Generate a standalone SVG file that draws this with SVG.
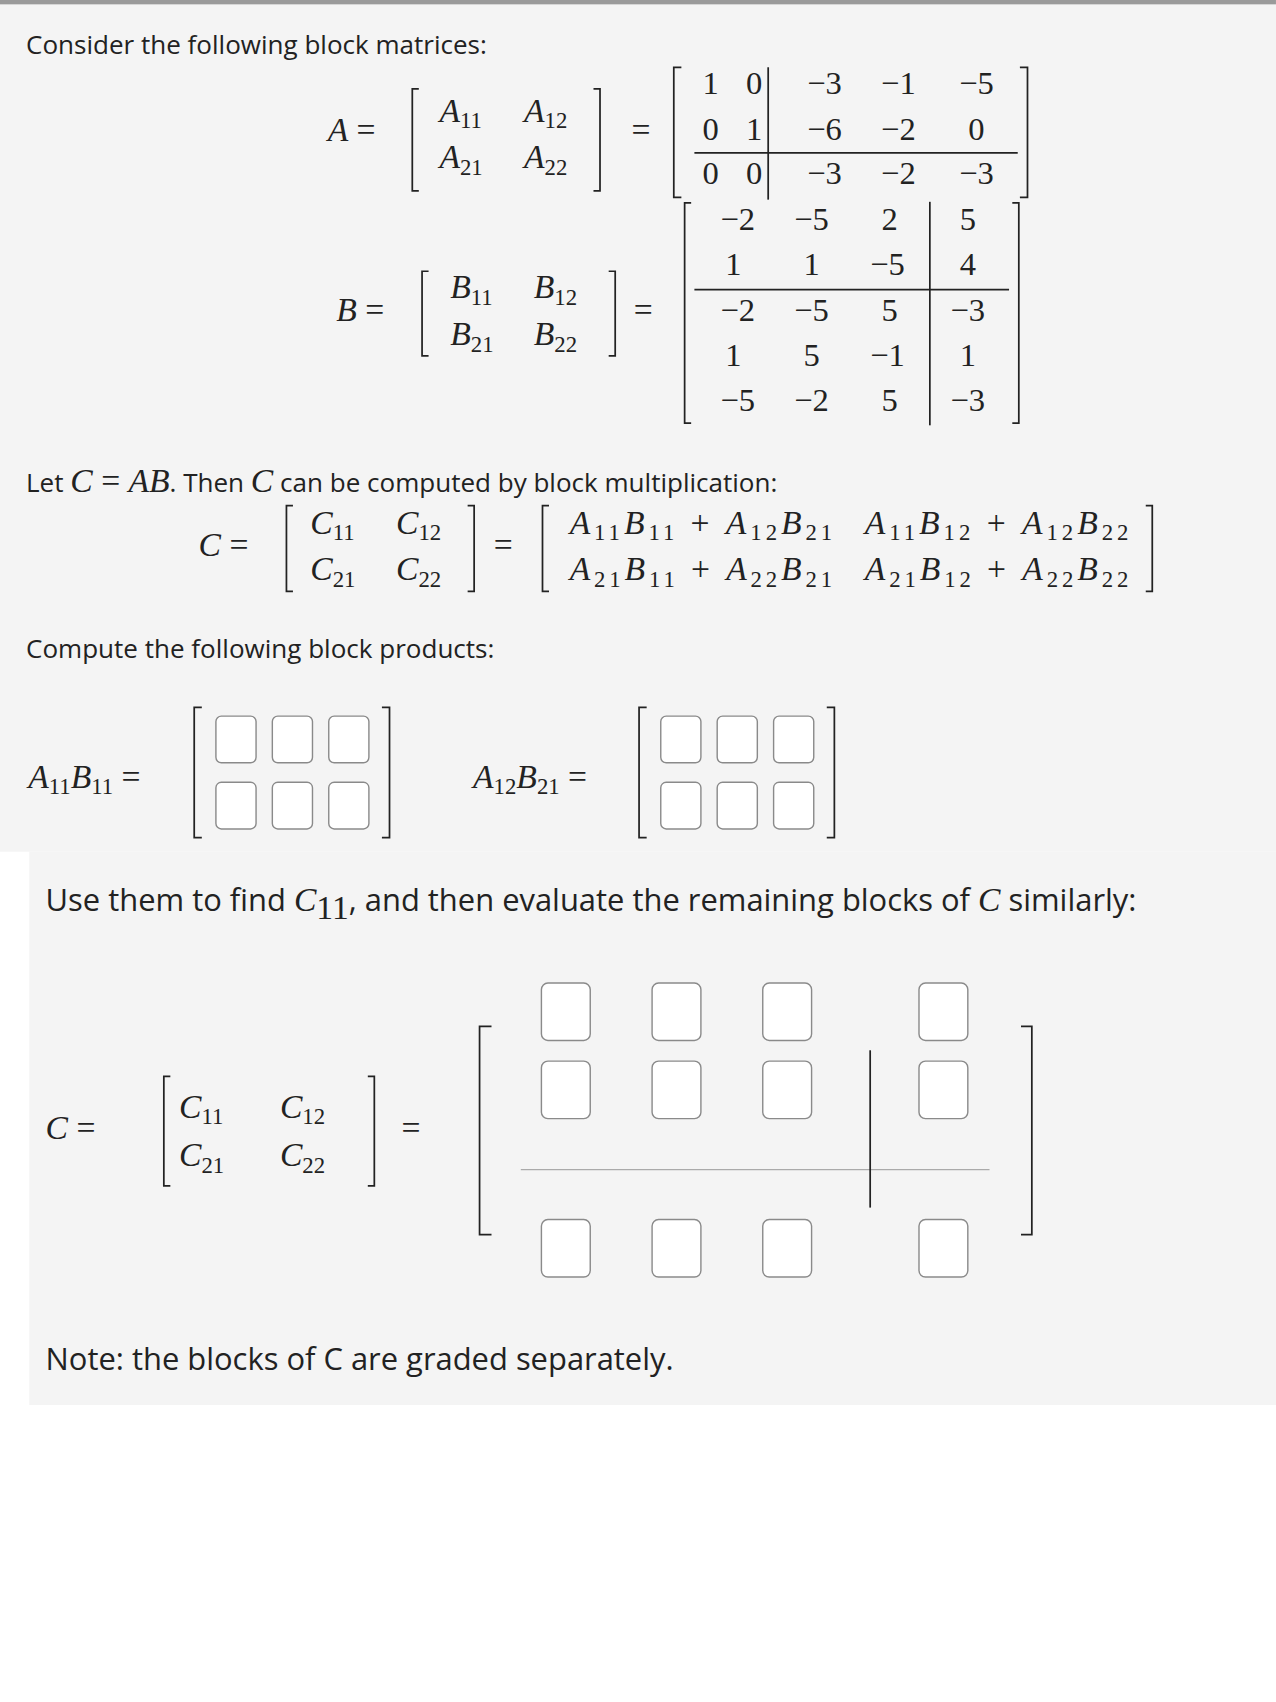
<svg xmlns="http://www.w3.org/2000/svg" width="1276" height="1702" viewBox="0 0 1276 1702">
<style>
.t{font-family:"Open Sans","Noto Sans",sans-serif;font-size:24px;fill:#222}
.t2{font-family:"Open Sans","Noto Sans",sans-serif;font-size:28.5px;fill:#222}
.m{font-family:"Liberation Serif","DejaVu Serif",serif;font-size:31px;fill:#222}
.i{font-style:italic}
.n{font-family:"Liberation Serif","DejaVu Serif",serif;font-size:30px;fill:#222;text-anchor:middle}
.s{font-size:21px;font-style:normal}
.br{fill:none;stroke:#222;stroke-width:1.6}
.ln{stroke:#222;stroke-width:1.6}
.bx{fill:#fff;stroke:#8a8a8a;stroke-width:1.3}
</style>
<rect width="1276" height="1702" fill="#fff"/>
<g transform="scale(1.085)">
<rect x="0" y="0" width="1176" height="785" fill="#f4f4f4"/>
<rect x="27" y="785" width="1149" height="510" fill="#f4f4f4"/>
<rect x="0" y="0" width="1176" height="4" fill="#9a9a9a"/>
<g id="intro"><text class="t" x="24" y="50">Consider the following block matrices:</text></g>
<g id="matA">
<text class="m" x="302" y="130"><tspan class="i">A</tspan> =</text>
<path class="br" d="M386,82 H380 V176 H386 M547,82 H553 V176 H547"/>
<text class="m i" x="405" y="112">A<tspan class="s" dy="6">11</tspan></text>
<text class="m i" x="483" y="112">A<tspan class="s" dy="6">12</tspan></text>
<text class="m i" x="405" y="155">A<tspan class="s" dy="6">21</tspan></text>
<text class="m i" x="483" y="155">A<tspan class="s" dy="6">22</tspan></text>
<text class="m" x="582" y="130">=</text>
<path class="br" d="M628,62 H621 V182 H628 M940,62 H947 V182 H940"/>
<line class="ln" x1="708" y1="62" x2="708" y2="184"/>
<line class="ln" x1="640" y1="141" x2="938" y2="141"/>
<text class="n" y="87"><tspan x="655">1</tspan><tspan x="695">0</tspan><tspan x="760">−3</tspan><tspan x="828">−1</tspan><tspan x="900">−5</tspan></text>
<text class="n" y="129"><tspan x="655">0</tspan><tspan x="695">1</tspan><tspan x="760">−6</tspan><tspan x="828">−2</tspan><tspan x="900">0</tspan></text>
<text class="n" y="170"><tspan x="655">0</tspan><tspan x="695">0</tspan><tspan x="760">−3</tspan><tspan x="828">−2</tspan><tspan x="900">−3</tspan></text>
</g>
<g id="matB">
<text class="m" x="310" y="296"><tspan class="i">B</tspan> =</text>
<path class="br" d="M395,250 H389 V328 H395 M561,250 H567 V328 H561"/>
<text class="m i" x="415" y="275">B<tspan class="s" dy="6">11</tspan></text>
<text class="m i" x="492" y="275">B<tspan class="s" dy="6">12</tspan></text>
<text class="m i" x="415" y="318">B<tspan class="s" dy="6">21</tspan></text>
<text class="m i" x="492" y="318">B<tspan class="s" dy="6">22</tspan></text>
<text class="m" x="584" y="296">=</text>
<path class="br" d="M637,187 H631 V390 H637 M933,187 H939 V390 H933"/>
<line class="ln" x1="857" y1="186" x2="857" y2="392"/>
<line class="ln" x1="640" y1="267" x2="930" y2="267"/>
<text class="n" y="212"><tspan x="680">−2</tspan><tspan x="748">−5</tspan><tspan x="820">2</tspan><tspan x="892">5</tspan></text>
<text class="n" y="253"><tspan x="676">1</tspan><tspan x="748">1</tspan><tspan x="818">−5</tspan><tspan x="892">4</tspan></text>
<text class="n" y="296"><tspan x="680">−2</tspan><tspan x="748">−5</tspan><tspan x="820">5</tspan><tspan x="892">−3</tspan></text>
<text class="n" y="337"><tspan x="676">1</tspan><tspan x="748">5</tspan><tspan x="818">−1</tspan><tspan x="892">1</tspan></text>
<text class="n" y="379"><tspan x="680">−5</tspan><tspan x="748">−2</tspan><tspan x="820">5</tspan><tspan x="892">−3</tspan></text>
</g>
<g id="letC">
<text class="t" x="24" y="453">Let <tspan class="m i" font-size="34">C</tspan><tspan class="m" font-size="34"> = </tspan><tspan class="m i" font-size="34">AB</tspan>. Then <tspan class="m i" font-size="34">C</tspan> can be computed by block multiplication:</text>
</g>
<g id="Cdef">
<text class="m" x="183" y="512"><tspan class="i">C</tspan> =</text>
<path class="br" d="M270,466 H264 V545 H270 M431,466 H437 V545 H431"/>
<text class="m i" x="286" y="492">C<tspan class="s" dy="6">11</tspan></text>
<text class="m i" x="365" y="492">C<tspan class="s" dy="6">12</tspan></text>
<text class="m i" x="286" y="535">C<tspan class="s" dy="6">21</tspan></text>
<text class="m i" x="365" y="535">C<tspan class="s" dy="6">22</tspan></text>
<text class="m" x="455" y="512">=</text>
<path class="br" d="M506,466 H500 V545 H506 M1056,466 H1062 V545 H1056"/>
<text class="m i" x="525" y="492" textLength="242" lengthAdjust="spacing">A<tspan class="s" dy="6">11</tspan><tspan dy="-6">B</tspan><tspan class="s" dy="6">11</tspan><tspan dy="-6" font-style="normal"> + </tspan><tspan dy="0">A</tspan><tspan class="s" dy="6">12</tspan><tspan dy="-6">B</tspan><tspan class="s" dy="6">21</tspan></text>
<text class="m i" x="797" y="492" textLength="243" lengthAdjust="spacing">A<tspan class="s" dy="6">11</tspan><tspan dy="-6">B</tspan><tspan class="s" dy="6">12</tspan><tspan dy="-6" font-style="normal"> + </tspan><tspan dy="0">A</tspan><tspan class="s" dy="6">12</tspan><tspan dy="-6">B</tspan><tspan class="s" dy="6">22</tspan></text>
<text class="m i" x="525" y="535" textLength="242" lengthAdjust="spacing">A<tspan class="s" dy="6">21</tspan><tspan dy="-6">B</tspan><tspan class="s" dy="6">11</tspan><tspan dy="-6" font-style="normal"> + </tspan><tspan dy="0">A</tspan><tspan class="s" dy="6">22</tspan><tspan dy="-6">B</tspan><tspan class="s" dy="6">21</tspan></text>
<text class="m i" x="797" y="535" textLength="243" lengthAdjust="spacing">A<tspan class="s" dy="6">21</tspan><tspan dy="-6">B</tspan><tspan class="s" dy="6">12</tspan><tspan dy="-6" font-style="normal"> + </tspan><tspan dy="0">A</tspan><tspan class="s" dy="6">22</tspan><tspan dy="-6">B</tspan><tspan class="s" dy="6">22</tspan></text>
</g>
<g id="compute"><text class="t" x="24" y="606">Compute the following block products:</text></g>
<g id="A11B11">
<text class="m i" x="26" y="726">A<tspan class="s" dy="6">11</tspan><tspan dy="-6">B</tspan><tspan class="s" dy="6">11</tspan><tspan dy="-6" font-style="normal"> =</tspan></text>
<path class="br" d="M186,652 H179 V772 H186 M352,652 H359 V772 H352"/>
<rect class="bx" x="199" y="660" width="37" height="43" rx="5"/><rect class="bx" x="251" y="660" width="37" height="43" rx="5"/><rect class="bx" x="303" y="660" width="37" height="43" rx="5"/>
<rect class="bx" x="199" y="721" width="37" height="43" rx="5"/><rect class="bx" x="251" y="721" width="37" height="43" rx="5"/><rect class="bx" x="303" y="721" width="37" height="43" rx="5"/>
</g>
<g id="A12B21">
<text class="m i" x="436" y="726">A<tspan class="s" dy="6">12</tspan><tspan dy="-6">B</tspan><tspan class="s" dy="6">21</tspan><tspan dy="-6" font-style="normal"> =</tspan></text>
<path class="br" d="M596,652 H589 V772 H596 M762,652 H769 V772 H762"/>
<rect class="bx" x="609" y="660" width="37" height="43" rx="5"/><rect class="bx" x="661" y="660" width="37" height="43" rx="5"/><rect class="bx" x="713" y="660" width="37" height="43" rx="5"/>
<rect class="bx" x="609" y="721" width="37" height="43" rx="5"/><rect class="bx" x="661" y="721" width="37" height="43" rx="5"/><rect class="bx" x="713" y="721" width="37" height="43" rx="5"/>
</g>
<g id="use"><text class="t2" x="42" y="840">Use them to find <tspan class="m i" font-size="40">C</tspan><tspan class="m" font-size="26" dy="7">11</tspan><tspan dy="-7">, and then evaluate the remaining blocks of </tspan><tspan class="m i" font-size="40">C</tspan> similarly:</text></g>
<g id="Cfinal">
<text class="m" x="42" y="1050" font-size="34"><tspan class="i">C</tspan> =</text>
<path class="br" d="M157,992 H151 V1093 H157 M339,992 H345 V1093 H339"/>
<text class="m i" x="165" y="1030" font-size="34">C<tspan class="s" dy="6" font-size="23">11</tspan></text>
<text class="m i" x="258" y="1030" font-size="34">C<tspan class="s" dy="6" font-size="23">12</tspan></text>
<text class="m i" x="165" y="1075" font-size="34">C<tspan class="s" dy="6" font-size="23">21</tspan></text>
<text class="m i" x="258" y="1075" font-size="34">C<tspan class="s" dy="6" font-size="23">22</tspan></text>
<text class="m" x="370" y="1050" font-size="34">=</text>
<path class="br" d="M453,946 H442 V1138 H453 M941,946 H951 V1138 H941"/>
<line x1="480" y1="1078" x2="912" y2="1078" stroke="#aaa" stroke-width="1.3"/>
<line class="ln" x1="802" y1="968" x2="802" y2="1113"/>
<rect class="bx" x="499" y="906" width="45" height="53" rx="6"/><rect class="bx" x="601" y="906" width="45" height="53" rx="6"/><rect class="bx" x="703" y="906" width="45" height="53" rx="6"/><rect class="bx" x="847" y="906" width="45" height="53" rx="6"/>
<rect class="bx" x="499" y="978" width="45" height="53" rx="6"/><rect class="bx" x="601" y="978" width="45" height="53" rx="6"/><rect class="bx" x="703" y="978" width="45" height="53" rx="6"/><rect class="bx" x="847" y="978" width="45" height="53" rx="6"/>
<rect class="bx" x="499" y="1124" width="45" height="53" rx="6"/><rect class="bx" x="601" y="1124" width="45" height="53" rx="6"/><rect class="bx" x="703" y="1124" width="45" height="53" rx="6"/><rect class="bx" x="847" y="1124" width="45" height="53" rx="6"/>
</g>
<g id="note"><text class="t2" x="42" y="1263">Note: the blocks of C are graded separately.</text></g>
</g>
</svg>
